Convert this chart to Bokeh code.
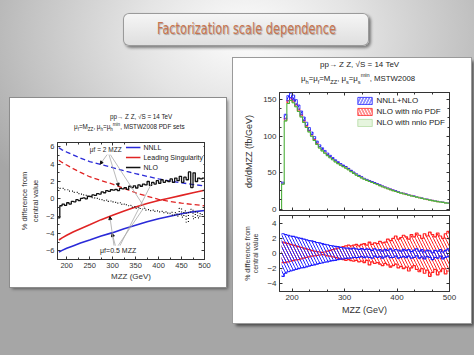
from bokeh.plotting import figure
from bokeh.models import (LinearAxis, Legend, LegendItem, Label, Arrow, NormalHead,
                          Div, Range1d, SingleIntervalTicker)
from bokeh.layouts import column, row
from bokeh.embed import file_html
from bokeh.resources import INLINE

# ---------------- data ----------------
slide_title = "Factorization scale dependence"
left_header = ["pp→ Z Z, √S = 14 TeV",
               "μ<sub>f</sub>=M<sub>ZZ</sub>,  μ<sub>h</sub>=μ<sub>h</sub><sup>min</sup>,  MSTW2008 PDF sets"]
right_header = ["pp→ Z Z, √S = 14 TeV",
                "μ<sub>h</sub>=μ<sub>f</sub>=M<sub>ZZ</sub>,  μ<sub>s</sub>=μ<sub>s</sub><sup>min</sup>,  MSTW2008"]

# left chart: smooth curves (% difference from central value)
curve_x = [183, 190, 200, 215, 230, 250, 275, 300, 325, 350, 375, 400, 425, 450, 475, 500]
nnll_half = [-6.15, -5.95, -5.7, -5.4, -5.1, -4.75, -4.3, -3.9, -3.45, -3.05, -2.65, -2.3, -2.0, -1.72, -1.5, -1.34]
nnll_two = [5.9, 5.65, 5.4, 5.05, 4.7, 4.3, 3.95, 3.6, 3.25, 2.9, 2.6, 2.3, 2.05, 1.85, 1.65, 1.5]
ls_half = [-4.75, -4.5, -4.2, -3.8, -3.45, -3.0, -2.4, -1.9, -1.4, -0.95, -0.55, -0.2, 0.1, 0.4, 0.7, 1.0]
ls_two = [4.45, 4.2, 3.9, 3.45, 3.05, 2.55, 2.1, 1.7, 1.2, 0.7, 0.3, -0.05, -0.3, -0.5, -0.65, -0.8]

# 5 GeV bins, 180 .. 500
bin_edges = list(range(180, 505, 5))
nlo_half = [-2.2, -0.8, -0.6, -0.75, -0.45, -0.6, -0.3, -0.35,
            -0.1, -0.2, 0.05, 0.1, 0.0, 0.3, 0.25, 0.45,
            0.4, 0.6, 0.55, 0.8, 0.7, 0.95, 0.85, 1.05,
            1.0, 1.1, 0.95, 1.2, 1.15, 1.3, 1.1, 1.45,
            1.3, 1.5, 1.25, 1.6, 1.45, 1.7, 1.6, 2.0,
            1.55, 1.9, 1.7, 2.1, 1.8, 2.2, 1.9, 2.1,
            2.0, 2.3, 1.9, 2.4, 2.1, 2.6, 1.9, 2.5,
            2.2, 3.1, 1.3, 3.0, 2.0, 2.4, 2.3, 2.4]
nlo_two = [1.3, 1.2, 1.2, 1.05, 1.05, 0.9, 0.9, 0.75,
           0.75, 0.6, 0.55, 0.45, 0.4, 0.25, 0.3, 0.15,
           0.1, 0.05, -0.05, -0.1, -0.2, -0.15, -0.3, -0.25,
           -0.35, -0.4, -0.5, -0.45, -0.65, -0.6, -0.8, -0.75,
           -0.95, -0.9, -1.1, -1.0, -1.2, -1.1, -1.3, -1.25,
           -1.35, -1.3, -1.45, -1.4, -1.5, -1.45, -1.6, -1.5,
           -1.7, -1.55, -1.9, -1.6, -2.0, -1.1, -2.1, -1.4,
           -2.7, -1.6, -1.2, -2.3, -1.5, -2.2, -1.7, -1.9]

# right chart: d sigma / d M_ZZ (fb/GeV)
nnll_nlo = [36, 127, 152, 156, 153, 147, 140, 132,
            124, 117, 110, 104, 98, 92, 87, 83,
            79.5, 76, 73, 70, 67, 64.5, 62, 60,
            58, 55.5, 53, 50.5, 48, 46, 44, 42,
            40.5, 39, 37.5, 36, 34.5, 33, 31.5, 30,
            28.6, 27.3, 26.0, 24.8, 23.6, 22.5, 21.5, 20.5,
            19.6, 18.6, 17.7, 16.8, 15.9, 15.0, 14.2, 13.4,
            12.6, 11.9, 11.2, 10.5, 9.9, 9.3, 8.7, 8.1]
nlo_nlo_pdf = [35, 123, 147, 151, 148, 142.5, 136, 128.5,
               121, 114, 107.5, 101.5, 95.5, 90, 85, 81,
               77.8, 74.4, 71.5, 68.6, 65.7, 63.3, 60.9, 59,
               57, 54.6, 52.1, 49.7, 47.2, 45.3, 43.4, 41.4,
               39.9, 38.4, 37, 35.5, 34, 32.5, 31, 29.6,
               28.2, 26.9, 25.6, 24.4, 23.2, 22.2, 21.2, 20.2,
               19.3, 18.3, 17.4, 16.5, 15.7, 14.8, 14.0, 13.2,
               12.4, 11.7, 11.0, 10.3, 9.7, 9.2, 8.6, 8.0]
nlo_nnlo_pdf = [34, 121, 145, 149, 146, 140.5, 134, 126.5,
                119, 112, 106, 100, 94, 88.7, 83.8, 79.9,
                76.7, 73.4, 70.5, 67.7, 64.8, 62.4, 60.1, 58.2,
                56.2, 53.9, 51.4, 49.0, 46.6, 44.7, 42.8, 40.9,
                39.4, 37.9, 36.5, 35.0, 33.6, 32.1, 30.6, 29.2,
                27.9, 26.6, 25.3, 24.1, 22.9, 21.9, 20.9, 19.9,
                19.0, 18.1, 17.2, 16.3, 15.5, 14.6, 13.8, 13.0,
                12.3, 11.6, 10.9, 10.2, 9.6, 9.1, 8.5, 7.9]

# bands: % difference from central value
blue_hi = [2.6, 2.5, 2.4, 2.3, 2.25, 2.15, 2.05, 2.0,
           1.9, 1.8, 1.7, 1.65, 1.55, 1.45, 1.4, 1.3,
           1.2, 1.15, 1.05, 1.0, 0.95, 0.9, 0.8, 0.75,
           0.7, 0.7, 0.6, 0.7, 0.6, 0.55, 0.65, 0.5,
           0.6, 0.55, 0.4, 0.6, 0.45, 0.5, 0.3, 0.55,
           0.4, 0.6, 0.35, 0.5, 0.45, 0.3, 0.55, 0.4,
           0.5, 0.25, 0.45, 0.6, 0.3, 0.5, 0.2, 0.45,
           0.35, 0.1, 0.4, 0.3, 0.5, 0.2, 0.4, 0.6]
blue_lo = [-3.0, -2.6, -2.4, -2.3, -2.2, -2.1, -2.0, -1.9,
           -1.85, -1.75, -1.65, -1.55, -1.5, -1.4, -1.3, -1.25,
           -1.15, -1.1, -1.0, -0.95, -0.9, -0.8, -0.75, -0.7,
           -0.65, -0.6, -0.6, -0.5, -0.55, -0.5, -0.4, -0.55,
           -0.45, -0.5, -0.6, -0.35, -0.5, -0.4, -0.6, -0.45,
           -0.3, -0.55, -0.5, -0.35, -0.6, -0.5, -0.4, -0.55,
           -0.35, -0.6, -0.5, -0.3, -0.6, -0.45, -0.7, -0.4,
           -0.5, -0.8, -0.5, -0.6, -0.35, -0.7, -0.5, -0.4]
red_hi = [1.5, 1.4, 1.3, 1.2, 1.1, 1.0, 0.9, 0.8,
          0.7, 0.6, 0.5, 0.4, 0.3, 0.25, 0.2, 0.15,
          0.2, 0.3, 0.4, 0.5, 0.6, 0.7, 0.8, 0.9,
          1.0, 1.1, 1.0, 1.1, 1.2, 1.0, 1.2, 1.3,
          1.1, 1.5, 1.2, 1.4, 1.3, 1.6, 1.4, 1.5,
          1.9, 1.7, 2.0, 2.3, 1.9, 2.1, 2.4, 2.2,
          1.9, 2.5, 2.2, 2.7, 2.4, 2.0, 2.6, 2.3,
          2.8, 2.5, 2.2, 2.7, 2.3, 2.0, 2.6, 2.9]
red_lo = [-1.2, -1.2, -1.1, -1.0, -0.95, -0.85, -0.8, -0.7,
          -0.6, -0.5, -0.45, -0.35, -0.3, -0.25, -0.2, -0.15,
          -0.2, -0.3, -0.35, -0.45, -0.5, -0.6, -0.7, -0.8,
          -0.9, -0.8, -0.95, -1.0, -0.9, -1.1, -1.0, -1.2,
          -0.9, -1.5, -1.1, -1.3, -1.2, -1.4, -1.6, -1.3,
          -1.5, -1.8, -1.6, -1.4, -1.9, -1.7, -2.0, -1.8,
          -2.3, -1.9, -1.6, -2.1, -2.4, -2.0, -2.6, -2.2,
          -3.0, -2.5, -2.1, -2.8, -2.4, -2.0, -2.7, -2.3]

# ---------------- styling ----------------
FONT = "Liberation Sans"
BLUE = "#2a2ad8"
RED = "#e02424"
HBLUE = "#1f1fff"
HRED = "#ff2222"
GREEN = "#4caf3a"

lefts = bin_edges[:-1]
rights = bin_edges[1:]


def step_xy(vals):
    return bin_edges, list(vals) + [vals[-1]]


def hide_labels(ax):
    ax.major_label_text_color = None
    ax.major_label_text_font_size = "1px"
    ax.major_label_standoff = 0


def style_axes(p, xint, xminor, yint, yminor, fs):
    p.add_layout(LinearAxis(), "above")
    p.add_layout(LinearAxis(), "right")
    for ax in p.xaxis:
        ax.ticker = SingleIntervalTicker(interval=xint, num_minor_ticks=xminor)
    for ax in p.yaxis:
        ax.ticker = SingleIntervalTicker(interval=yint, num_minor_ticks=yminor)
    for ax in p.axis:
        ax.major_tick_in = 3
        ax.major_tick_out = 0
        ax.minor_tick_in = 2
        ax.minor_tick_out = 0
        ax.axis_line_color = "#333333"
        ax.major_tick_line_color = "#333333"
        ax.minor_tick_line_color = "#333333"
        ax.major_label_text_font = FONT
        ax.major_label_text_font_size = fs
        ax.major_label_text_color = "#333333"
        ax.major_label_standoff = 3
        ax.axis_label_text_font = FONT
        ax.axis_label_text_font_style = "normal"
        ax.axis_label_text_color = "#333333"
    hide_labels(p.above[0])
    hide_labels(p.right[0])


def new_fig(w, h, xr, yr, mb):
    p = figure(width=w, height=h, x_range=Range1d(*xr), y_range=Range1d(*yr),
               output_backend="svg", toolbar_location=None, title=None,
               min_border_top=mb[0], min_border_right=mb[1],
               min_border_bottom=mb[2], min_border_left=mb[3],
               background_fill_color="white", border_fill_color="white",
               outline_line_color="#333333", margin=(0, 0, 0, 0))
    p.grid.visible = False
    return p


def add_text(p, x, y, text, size, align="center"):
    p.add_layout(Label(x=x, y=y, text=text, text_font=FONT, text_font_size=size,
                       text_color="#222222", text_align=align, text_baseline="middle"))


def header_div(width, height, lines):
    # lines: (text, left px, top px, font size px)
    parts = []
    for text, left, top, size in lines:
        text = (text.replace("<sub>", '<sub style="font-size:72%;line-height:0;">')
                    .replace("<sup>", '<sup style="font-size:72%;line-height:0;">'))
        parts.append('<div style="position:absolute;white-space:nowrap;left:%dpx;top:%dpx;'
                     'font-size:%spx;line-height:1;">%s</div>' % (left, top, size, text))
    html = ('<div style="position:relative;width:%dpx;height:%dpx;color:#222;'
            "font-family:'Liberation Sans',Arial,sans-serif;\">%s</div>"
            % (width, height, "".join(parts)))
    return Div(text=html, width=width, height=height, margin=(0, 0, 0, 0),
               styles={"background": "white"})


# ---------------- left chart ----------------
hdr_l = header_div(216, 34, [(left_header[0], 100, 16, 6.3), (left_header[1], 64, 26, 6.3)])
pl = new_fig(216, 155, (180, 500), (-7, 6.5), (10, 22, 28, 47))
style_axes(pl, 50, 2, 2, 2, "7.5px")
pl.below[0].axis_label = "MZZ (GeV)"
pl.below[0].axis_label_text_font_size = "8px"
pl.below[0].axis_label_standoff = 1
pl.left[0].axis_label = "% difference from\ncentral value"
pl.left[0].axis_label_text_font_size = "7.5px"
pl.left[0].axis_label_standoff = 3

r_nb = pl.line(curve_x, nnll_half, line_color=BLUE, line_width=1.6)
pl.line(curve_x, nnll_two, line_color=BLUE, line_width=1.3, line_dash="5 3")
r_ls = pl.line(curve_x, ls_half, line_color=RED, line_width=1.6)
pl.line(curve_x, ls_two, line_color=RED, line_width=1.3, line_dash="5 3")
sx, sy = step_xy(nlo_half)
r_nlo = pl.step(sx, sy, mode="after", line_color="#111111", line_width=1.3)
dx, dy = step_xy(nlo_two)
pl.step(dx, dy, mode="after", line_color="#111111", line_width=1.2, line_dash="1 2")

arrow_specs = [((288, 5.1), (273, 4.0), True), ((292, 5.1), (313, 1.45), True),
               ((295, 5.1), (372, -1.2), False),
               ((306, -5.4), (299, -4.0), True), ((303, -5.4), (294, -2.05), True),
               ((312, -5.4), (367, -1.1), False), ((316, -5.4), (384, 1.7), False)]
for (xs, ys), (xe, ye), head in arrow_specs:
    pl.add_layout(Arrow(x_start=xs, y_start=ys, x_end=xe, y_end=ye,
                        line_color="#a8a8a8", line_width=0.8,
                        end=NormalHead(size=3, line_color="#111111", fill_color="#111111") if head else None))

add_text(pl, 285, 5.75, "μf = 2 MZZ", "6.5px")
add_text(pl, 312, -6.0, "μf=0.5 MZZ", "7px")

leg_l = Legend(items=[LegendItem(label="NNLL", renderers=[r_nb]),
                      LegendItem(label="Leading Singularity", renderers=[r_ls]),
                      LegendItem(label="NLO", renderers=[r_nlo])],
               location="top_right", label_text_font=FONT, label_text_font_size="7px",
               label_text_color="#222222", glyph_width=15, glyph_height=8, label_height=8,
               spacing=2, padding=2, margin=1, label_standoff=3,
               border_line_color=None, background_fill_alpha=1.0)
pl.add_layout(leg_l)

# ---------------- right top chart ----------------
hdr_r = header_div(238, 30, [(right_header[0], 87, 3, 8), (right_header[1], 68, 17, 7.8)])
pt = new_fig(238, 126, (176, 500), (-2, 160), (4, 22, 4, 46))
style_axes(pt, 100, 3, 50, 4, "8px")
hide_labels(pt.below[0])
pt.left[0].axis_label = "dσ/dMZZ (fb/GeV)"
pt.left[0].axis_label_text_font_size = "9px"
pt.left[0].axis_label_standoff = 6

r_red = pt.quad(left=lefts, right=rights,
                bottom=[c * (1 + l / 100) for c, l in zip(nlo_nlo_pdf, red_lo)],
                top=[c * (1 + h / 100) for c, h in zip(nlo_nlo_pdf, red_hi)],
                fill_alpha=0, hatch_pattern="\\", hatch_color=HRED, hatch_scale=6,
                hatch_weight=1, line_color=HRED, line_width=0.8)
r_blue = pt.quad(left=lefts, right=rights,
                 bottom=[c * (1 + l / 100) for c, l in zip(nnll_nlo, blue_lo)],
                 top=[c * (1 + h / 100) for c, h in zip(nnll_nlo, blue_hi)],
                 fill_alpha=0, hatch_pattern="/", hatch_color=HBLUE, hatch_scale=6,
                 hatch_weight=1, line_color=HBLUE, line_width=0.8)
r_green = pt.quad(left=lefts, right=rights, bottom=nlo_nnlo_pdf, top=nlo_nnlo_pdf,
                  fill_color="#e6f5de", line_color="#bfe0b0", line_width=1)
gx, gy = step_xy(nlo_nnlo_pdf)
pt.step([bin_edges[0]] + gx, [0] + gy, mode="after", line_color=GREEN, line_width=1.1)

leg_r = Legend(items=[LegendItem(label="NNLL+NLO", renderers=[r_blue]),
                      LegendItem(label="NLO with nlo PDF", renderers=[r_red]),
                      LegendItem(label="NLO with nnlo PDF", renderers=[r_green])],
               location="top_right", label_text_font=FONT, label_text_font_size="8px",
               label_text_color="#222222", glyph_width=18, glyph_height=9, label_height=9,
               spacing=2, padding=2, margin=4, label_standoff=3,
               border_line_color=None, background_fill_alpha=0.0)
pt.add_layout(leg_r)

# ---------------- right bottom chart ----------------
pb = new_fig(238, 109, (176, 500), (-5, 5), (1, 22, 32, 46))
style_axes(pb, 100, 3, 2, 1, "8px")
pb.below[0].axis_label = "MZZ (GeV)"
pb.below[0].axis_label_text_font_size = "9px"
pb.below[0].axis_label_standoff = 2
pb.left[0].axis_label = "% difference from\ncentral value"
pb.left[0].axis_label_text_font_size = "7px"
pb.left[0].axis_label_standoff = 5

pb.quad(left=lefts, right=rights, bottom=red_lo, top=red_hi, fill_alpha=0,
        hatch_pattern="\\", hatch_color=HRED, hatch_scale=6, hatch_weight=1, line_color=None)
for band in (red_hi, red_lo):
    bx, by = step_xy(band)
    pb.step(bx, by, mode="after", line_color=HRED, line_width=1.2)
pb.quad(left=lefts, right=rights, bottom=blue_lo, top=blue_hi, fill_alpha=0,
        hatch_pattern="\\", hatch_color=HBLUE, hatch_scale=6, hatch_weight=1, line_color=None)
for band in (blue_hi, blue_lo):
    bx, by = step_xy(band)
    pb.step(bx, by, mode="after", line_color=HBLUE, line_width=1.2)

# ---------------- slide layout ----------------
title_div = Div(
    text=('<div style="width:246px;height:33px;display:flex;align-items:center;'
          'justify-content:center;">'
          '<span style="display:inline-block;transform:scaleX(0.84);white-space:nowrap;'
          "font-family:'Liberation Sans Narrow','DejaVu Sans Condensed',sans-serif;"
          'font-size:15px;color:#c8744e;text-shadow:1px 1px 1px rgba(0,0,0,0.3);">'
          + slide_title + '</span></div>'),
    width=246, height=33, margin=(13, 0, 0, 123),
    styles={"background": "linear-gradient(#f6f6f6, #dedede)", "border-radius": "6px",
            "box-shadow": "inset 0 0 0 1px #9a9a9a, 2px 2px 3px rgba(0,0,0,0.45)"})

left_col = column(hdr_l, pl, margin=(40, 0, 0, 10), spacing=0,
                  styles={"background": "white",
                          "box-shadow": "0 0 0 1px #8c8c8c, 2px 2px 3px rgba(0,0,0,0.45)"})
right_col = column(hdr_r, pt, pb, margin=(0, 0, 0, 7), spacing=0,
                   styles={"background": "white",
                           "box-shadow": "0 0 0 1px #9a9a9a, 3px 3px 3px rgba(0,0,0,0.55)"})
main_row = row(left_col, right_col, margin=(12, 0, 0, 0), spacing=0)
root = column(title_div, main_row, width=474, height=355, spacing=0,
              styles={"background": "radial-gradient(ellipse 65% 60% at 52% 10%, #fdfdfd 0%, "
                                    "#e4e4e4 35%, #c2c2c2 72%, #a6a6a6 100%)"})

open("out.html", "w").write(file_html(root, INLINE))
